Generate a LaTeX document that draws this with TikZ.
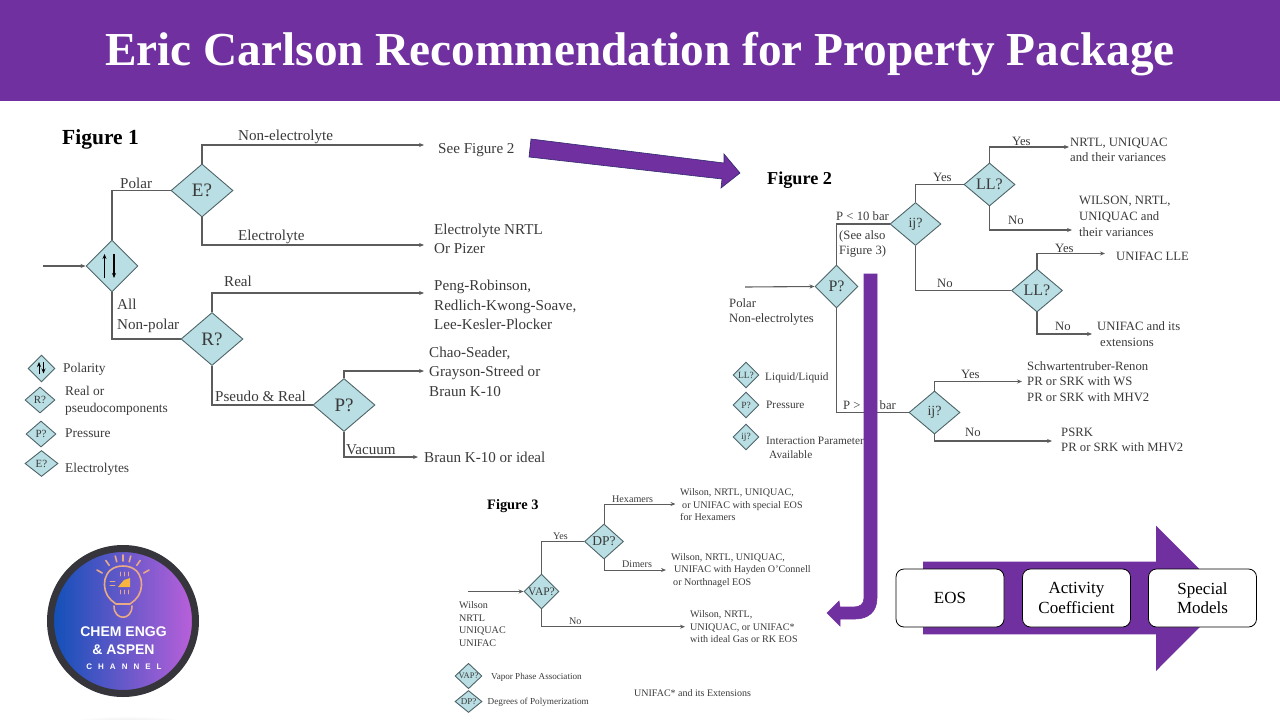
\documentclass[tikz,border=0pt]{standalone}
\usepackage{fontspec}
\setmainfont{Liberation Serif}
\newfontfamily\badgefont{Liberation Sans}
\newfontfamily\badgewide[LetterSpace=75]{Liberation Sans}
\usetikzlibrary{arrows.meta,positioning,shapes.geometric,calc}
\definecolor{pkgpurple}{HTML}{7030A0}
\definecolor{pkgnavy}{HTML}{2E2A6B}
\definecolor{diafill}{HTML}{B9DEE3}
\definecolor{diaedge}{HTML}{4E6468}
\definecolor{linkgray}{HTML}{5C5C5C}
\definecolor{inkgray}{HTML}{3A3A3A}
\definecolor{badgering}{HTML}{35353B}
\definecolor{badgeblue}{HTML}{0F50B8}
\definecolor{badgemid}{HTML}{5A4CC4}
\definecolor{badgepink}{HTML}{BC60DA}
\definecolor{bulbtan}{HTML}{E8A985}
\definecolor{bulbgold}{HTML}{F5B53F}
\tikzset{
  dia/.style={shape=diamond, draw=diaedge, fill=diafill, inner sep=0pt, text=inkgray, line width=0.9pt},
  dialg/.style={dia, minimum width=62pt, minimum height=53pt, font=\fontsize{19}{22}\selectfont},
  diamd/.style={dia, minimum width=51pt, minimum height=43pt, font=\fontsize{16}{19}\selectfont},
  dism/.style={dia, minimum width=39pt, minimum height=35pt, font=\fontsize{13.5}{16}\selectfont},
  dikey/.style={dia, minimum width=30pt, minimum height=26pt, font=\fontsize{9.5}{11}\selectfont},
  txa/.style={anchor=west, inner sep=0pt, align=left, text=inkgray, font=\fontsize{15.1}{19.5}\selectfont},
  txb/.style={anchor=west, inner sep=0pt, align=left, text=inkgray, font=\fontsize{12.7}{15.7}\selectfont},
  txc/.style={anchor=west, inner sep=0pt, align=left, text=inkgray, font=\fontsize{10.1}{12.5}\selectfont},
  figlab/.style={anchor=west, inner sep=0pt, font=\bfseries\fontsize{21.5}{24}\selectfont},
  seg/.style={draw=linkgray, line width=1.1pt},
  lnk/.style={seg, -{Stealth[length=5pt,width=4pt]}},
  bigarr/.style={fill=pkgpurple, draw=pkgnavy, line width=0.6pt},
  gridbox/.style={draw=black, fill=white, rounded corners=8pt, line width=0.8pt, minimum width=108pt, minimum height=58pt, inner sep=0pt, align=center, font=\fontsize{17}{19.5}\selectfont},
  badgetx/.style={text=white, inner sep=0pt, font=\badgefont\bfseries\fontsize{14}{16}\selectfont},
  bulb/.style={draw=bulbtan, line width=1.6pt, line cap=round},
}
\begin{document}
\begin{tikzpicture}[x=1pt,y=-1pt]
  \useasboundingbox (0,0) rectangle (1280,720);
  \node (titlebar) [fill=pkgpurple, minimum width=1280pt, minimum height=101pt, inner sep=0pt] at (640,50.5) {};
  \node (titlelab) [text=white, inner sep=0pt, font=\bfseries\fontsize{47.3}{52}\selectfont] at (640,54) {Eric Carlson Recommendation for Property Package};

  % figure 1
  \node (figone) [figlab] at (62,139) {Figure 1};
  \coordinate (polin) at (43,266);
  \node (polq) [dia, minimum width=52pt, minimum height=52pt] at (112,266) {};
  \node (eq) [dialg] at (202,190.5) {E?};
  \node (rq) [dialg] at (212,339) {R?};
  \node (pq) [dialg] at (344,405) {P?};
  \coordinate (upa) at (104.5,278); \coordinate (upb) at (104.5,254);
  \coordinate (dna) at (114,254); \coordinate (dnb) at (114,278);
  \draw[lnk, draw=black] (upa) -- (upb);
  \draw[lnk, draw=black] (dna) -- (dnb);
  \coordinate (seeend) at (424,145);
  \coordinate (eleend) at (424,245);
  \coordinate (realend) at (424,293);
  \coordinate (chaoend) at (424,371);
  \coordinate (vacend) at (418,457);
  \draw[lnk] (polin) -- (polq.west);
  \draw[seg] (polq.north) |- (eq.west);
  \draw[seg] (polq.south) |- (rq.west);
  \draw[lnk] (eq.north) |- (seeend);
  \draw[lnk] (eq.south) |- (eleend);
  \draw[lnk] (rq.north) |- (realend);
  \draw[seg] (rq.south) |- (pq.west);
  \draw[lnk] (pq.north) |- (chaoend);
  \draw[lnk] (pq.south) |- (vacend);
  \node (lnonel) [txa] at (238,137) {Non-electrolyte};
  \node (lpolar) [txa] at (120,183) {Polar};
  \node (lelec) [txa] at (238,237) {Electrolyte};
  \node (lallnp) [txa] at (117,316) {All\\Non-polar};
  \node (lreal) [txa] at (224,281) {Real};
  \node (lpseudo) [txa] at (215,396) {Pseudo \& Real};
  \node (lvac) [txa] at (346,450) {Vacuum};
  \node (rsee) [txa] at (438,150) {See Figure 2};
  \node (relec) [txa] at (434,239) {Electrolyte NRTL\\Or Pizer};
  \node (rpeng) [txa] at (434,305) {Peng-Robinson,\\Redlich-Kwong-Soave,\\Lee-Kesler-Plocker};
  \node (rchao) [txa] at (429,371.5) {Chao-Seader,\\Grayson-Streed or\\Braun K-10};
  \node (rbraun) [txa] at (424,457) {Braun K-10 or ideal};
  \node (kpol) [dikey, minimum width=27pt, minimum height=27pt] at (41.5,368.5) {};
  \coordinate (kupa) at (39,373.5); \coordinate (kupb) at (39,362);
  \coordinate (kdna) at (43.5,362); \coordinate (kdnb) at (43.5,373.5);
  \draw[lnk, draw=black, line width=0.8pt] (kupa) -- (kupb);
  \draw[lnk, draw=black, line width=0.8pt] (kdna) -- (kdnb);
  \node (kr) [dikey, font=\fontsize{11}{13}\selectfont] at (40,400) {R?};
  \node (kp) [dikey, font=\fontsize{11}{13}\selectfont] at (41,434) {P?};
  \node (ke) [dikey, minimum width=33pt, font=\fontsize{11}{13}\selectfont] at (41.5,463.5) {E?};
  \node (tpol) [txb, font=\fontsize{13.4}{17}\selectfont] at (63,369) {Polarity};
  \node (treal) [txb, font=\fontsize{13.4}{17}\selectfont] at (65,400.5) {Real or\\pseudocomponents};
  \node (tpres) [txb, font=\fontsize{13.4}{17}\selectfont] at (65,433) {Pressure};
  \node (telec) [txb, font=\fontsize{13.4}{17}\selectfont] at (65,469) {Electrolytes};

  % figure 2
  \node (figtwo) [figlab, font=\bfseries\fontsize{18.2}{21}\selectfont] at (767,180) {Figure 2};
  \coordinate (pin) at (745,287);
  \node (ptwo) [diamd, minimum width=43pt] at (836.5,286.5) {P?};
  \node (ijone) [diamd, font=\fontsize{14}{17}\selectfont] at (915.5,224) {ij?};
  \node (llone) [diamd] at (989.5,184.5) {LL?};
  \node (lltwo) [diamd] at (1037,290.5) {LL?};
  \node (ijtwo) [diamd, font=\fontsize{14}{17}\selectfont] at (934.5,412.5) {ij?};
  \coordinate (nrtlend) at (1069,147);
  \coordinate (wilend) at (1072,230);
  \coordinate (lleend) at (1105,253.5);
  \coordinate (extend) at (1092,334);
  \coordinate (schend) at (1022,381.5);
  \coordinate (psend) at (1052,441);
  \draw[lnk] (pin) -- (ptwo.west);
  \draw[seg] (ptwo.north) |- (ijone.west);
  \draw[seg] (ptwo.south) |- (ijtwo.west);
  \draw[seg] (ijone.north) |- (llone.west);
  \draw[seg] (ijone.south) |- (lltwo.west);
  \draw[lnk] (llone.north) |- (nrtlend);
  \draw[lnk] (llone.south) |- (wilend);
  \draw[lnk] (lltwo.north) |- (lleend);
  \draw[lnk] (lltwo.south) |- (extend);
  \draw[lnk] (ijtwo.north) |- (schend);
  \draw[lnk] (ijtwo.south) |- (psend);
  \node (ly) [txb] at (1012,141) {Yes};
  \node (lyb) [txb] at (933,177) {Yes};
  \node (lpl) [txb] at (836,216) {P < 10 bar};
  \node (lsee) [txb] at (839,244) {(See also\\Figure 3)};
  \node (ln) [txb] at (1008,220) {No};
  \node (lyc) [txb] at (1055,248) {Yes};
  \node (lnb) [txb] at (937,283.5) {No};
  \node (lnc) [txb] at (1055,326.5) {No};
  \node (lyd) [txb] at (961,374) {Yes};
  \node (lpg) [txb] at (843,405) {P > 10 bar};
  \node (lnd) [txb] at (965,432) {No};
  \node (rnrtl) [txb] at (1070,150) {NRTL, UNIQUAC\\and their variances};
  \node (rwil) [txb] at (1079,216.5) {WILSON, NRTL,\\UNIQUAC and\\their variances};
  \node (runi) [txb] at (1116,256) {UNIFAC LLE};
  \node (rext) [txb] at (1097,334.5) {UNIFAC and its\\\hspace*{3pt}extensions};
  \node (rsch) [txb] at (1027,381.5) {Schwartentruber-Renon\\PR or SRK with WS\\PR or SRK with MHV2};
  \node (rpsrk) [txb] at (1061,440) {PSRK\\PR or SRK with MHV2};
  \node (rpol) [txb] at (729,312) {Polar\\Non-electrolytes};
  \node (kll) [dikey, minimum width=26pt] at (746,375) {LL?};
  \node (kpt) [dikey, minimum width=26pt] at (746,405) {P?};
  \node (kij) [dikey, minimum width=26pt] at (746,437) {ij?};
  \node (tll) [txc, font=\fontsize{11.3}{13.5}\selectfont] at (765,378) {Liquid/Liquid};
  \node (tpt) [txc, font=\fontsize{11.3}{13.5}\selectfont] at (766,405) {Pressure};
  \node (tij) [txc, font=\fontsize{11.3}{14}\selectfont] at (766,448) {Interaction Parameter\\\hspace*{3pt}Available};

  % figure 3
  \node (figthree) [figlab, font=\bfseries\fontsize{14.4}{17}\selectfont] at (487,506) {Figure 3};
  \coordinate (vin) at (468,591.5);
  \node (vap) [dism, minimum width=35pt, font=\fontsize{11.5}{14}\selectfont] at (541.5,591.5) {VAP?};
  \node (dp) [dism] at (604,541.5) {DP?};
  \coordinate (hexend) at (675.5,504);
  \coordinate (dimend) at (666,570);
  \coordinate (noend) at (685,626.7);
  \draw[lnk, line width=0.8pt] (vin) -- (vap.west);
  \draw[seg, line width=0.8pt] (vap.north) |- (dp.west);
  \draw[lnk, line width=0.8pt] (vap.south) |- (noend);
  \draw[lnk, line width=0.8pt] (dp.north) |- (hexend);
  \draw[lnk, line width=0.8pt] (dp.south) |- (dimend);
  \node (lhex) [txc] at (612,499) {Hexamers};
  \node (lyes) [txc] at (553,536) {Yes};
  \node (ldim) [txc] at (622,564.5) {Dimers};
  \node (lno) [txc] at (569,621.5) {No};
  \node (rhex) [txc] at (680,505) {Wilson, NRTL, UNIQUAC,\\\hspace*{2pt}or UNIFAC with special EOS\\for Hexamers};
  \node (rdim) [txc] at (671,570.5) {Wilson, NRTL, UNIQUAC,\\\hspace*{3pt}UNIFAC with Hayden O'Connell\\\hspace*{2pt}or Northnagel EOS};
  \node (rno) [txc] at (690,627) {Wilson, NRTL,\\UNIQUAC, or UNIFAC*\\with ideal Gas or RK EOS};
  \node (rcomp) [txc] at (459,624) {Wilson\\NRTL\\UNIQUAC\\UNIFAC};
  \node (kvap) [dikey, minimum width=27pt, minimum height=23pt, font=\fontsize{8.5}{10}\selectfont] at (468.5,676) {VAP?};
  \node (kdp) [dikey, minimum width=27pt, minimum height=22pt, font=\fontsize{9}{10}\selectfont] at (468.5,701.5) {DP?};
  \node (tvap) [txc, font=\fontsize{9.1}{12}\selectfont] at (491,677) {Vapor Phase Association};
  \node (tdp) [txc, font=\fontsize{9.2}{12}\selectfont] at (487.5,702) {Degrees of Polymerizatiom};
  \node (tuni) [txc, font=\fontsize{10}{12}\selectfont] at (634,693) {UNIFAC* and its Extensions};

  % purple arrows
  \draw[bigarr] (531,139) -- (724,163) -- (724,154) -- (740,173) -- (721,188) -- (722,179) -- (529,157) -- cycle;
  \draw[bigarr, draw=pkgpurple] (864,274) -- (877,274) -- (877,598) .. controls (877,612) and (868,619) .. (855,619) -- (840,619) -- (840,626) -- (827,613) -- (839,601) -- (840,607) -- (854,607) .. controls (860,607) and (864,604) .. (864,598) -- cycle;
  \fill[pkgpurple] (923,561.7) -- (1156,561.7) -- (1156,525.7) -- (1228.6,598) -- (1156,671) -- (1156,634.3) -- (923,634.3) -- cycle;
  \node (eosbox) [gridbox] at (950,598) {EOS};
  \node (actbox) [gridbox] at (1076.5,598) {Activity\\Coefficient};
  \node (spebox) [gridbox] at (1202.5,598) {Special\\Models};

  % badge
  \node (badgeshadow) [shape=ellipse, shading=radial, inner color=black!12, outer color=white, minimum width=130pt, minimum height=16pt] at (128,724) {};
  \node (badge) [shape=circle, draw=badgering, line width=7pt, left color=badgeblue, middle color=badgemid, right color=badgepink, minimum size=145pt, inner sep=0pt] at (123,621) {};
  \draw[bulb] (111,600) .. controls (100,590) and (102,566) .. (123,566) .. controls (144,566) and (146,590) .. (135,600) -- (130,604) -- (116,604) -- cycle;
  \draw[bulb] (114,606) .. controls (114,621) and (132,621) .. (132,606);
  \foreach \a in {-150,-125,-105,-90,-75,-55,-30}
    \draw[bulb] ($(123,585)+(\a:24)$) -- ($(123,585)+(\a:30)$);
  \fill[bulbgold] (118,587) -- (124,580) -- (130,578) -- (130,587) -- cycle;
  \foreach \t in {0,4,8} {
    \draw[bulb, line width=0.8pt] (120+\t,572) -- (120+\t,576);
    \draw[bulb, line width=0.8pt] (120+\t,590) -- (120+\t,594);
  }
  \foreach \t in {0,4}
    \draw[bulb, line width=0.8pt] (110,581+\t) -- (115,581+\t);
  \node (chemlab) [badgetx] at (123.5,632) {CHEM ENGG};
  \node (asplab) [badgetx] at (123.5,650) {\& ASPEN};
  \node (chanlab) [badgetx, font=\badgewide\bfseries\fontsize{8}{9}\selectfont] at (124,667) {CHANNEL};
\end{tikzpicture}
\end{document}
